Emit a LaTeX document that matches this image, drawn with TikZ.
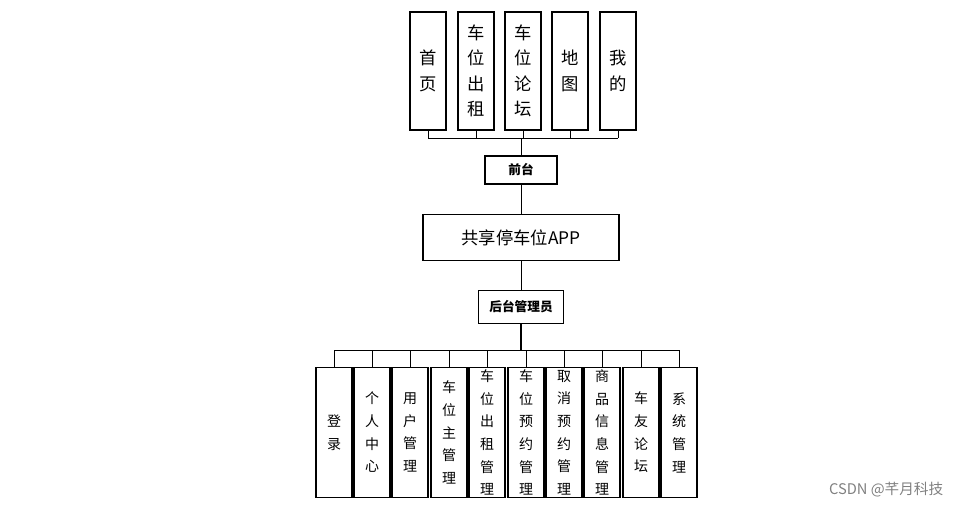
\documentclass[tikz,border=0pt]{standalone}
\usepackage{fontspec}
\setmainfont{Noto Sans CJK SC}
\begin{document}
\begin{tikzpicture}[x=0.75pt,y=-0.75pt,
  box/.style={draw,line width=0.8pt,inner sep=0pt,align=center},
  ln/.style={line width=0.6pt}]
\useasboundingbox (0,0) rectangle (961,508);
% top
\foreach \n/\x/\t in {t1/428/首\\页, t2/476/车\\位\\出\\租, t3/523/车\\位\\论\\坛, t4/570/地\\图, t5/618/我\\的}{
  \node[box,minimum width=27pt,minimum height=88.5pt,font=\fontsize{13}{19}\selectfont] (\n) at (\x,71) {\t};
  \draw[ln] (\n.south) -- (\x,138);
}
\draw[ln] (428,138) -- (618,138);
\node[box,minimum width=54pt,minimum height=21pt,font=\fontsize{9.5}{11}\selectfont\bfseries] (qt) at (521,170) {前台};
\node[box,minimum width=147pt,minimum height=34pt,font=\fontsize{13}{15}\selectfont] (app) at (521,237.5) {共享停车位APP};
\node[box,minimum width=64pt,minimum height=25pt,font=\fontsize{9.5}{11}\selectfont\bfseries] (ht) at (521,307) {后台管理员};
\draw[ln] (521,138) -- (qt.north);
\draw[ln] (qt.south) -- (app.north);
\draw[ln] (app.south) -- (ht.north);
\draw[line width=1.5pt] (ht.south) -- (521,350);
\draw[ln] (334,350) -- (680,350);
\foreach \n/\x/\t in {b1/334/登\\录, b2/372/个\\人\\中\\心, b3/410/用\\户\\管\\理, b4/449/车\\位\\主\\管\\理, b5/487/车\\位\\出\\租\\管\\理, b6/526/车\\位\\预\\约\\管\\理, b7/564/取\\消\\预\\约\\管\\理, b8/602/商\\品\\信\\息\\管\\理, b9/641/车\\友\\论\\坛, b10/679/系\\统\\管\\理}{
  \node[box,minimum width=27pt,minimum height=98pt,font=\fontsize{10.5}{17}\selectfont] (\n) at (\x,432.5) {\t};
  \draw[ln] (\x,350) -- (\n.north);
}
\node[text=gray,font=\fontsize{11}{13}\selectfont,anchor=east] (wm) at (948,490) {CSDN @芊月科技};
\end{tikzpicture}
\end{document}
